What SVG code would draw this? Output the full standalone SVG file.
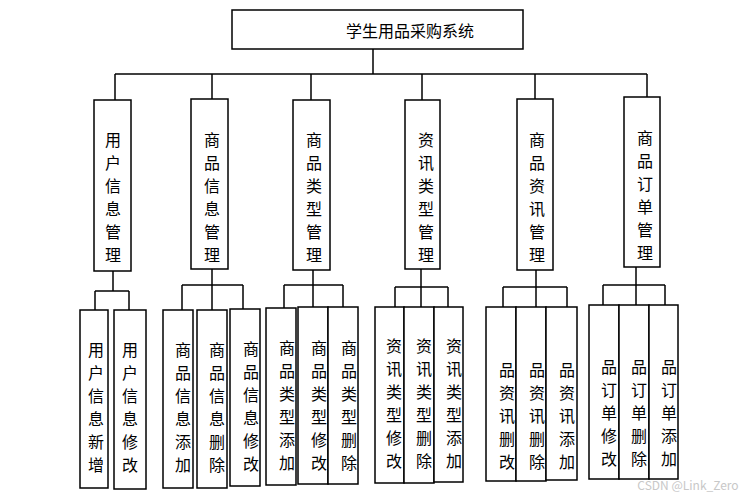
<svg xmlns="http://www.w3.org/2000/svg" width="752" height="499" viewBox="0 0 752 499">
<style>
rect{fill:#fff;stroke:#000;stroke-width:1.5}
#connectors line{stroke:#000;stroke-width:1.5}
text{font-family:"Noto Sans CJK SC","Noto Sans",sans-serif;font-size:16px;fill:#000;text-anchor:middle}
</style>
<rect width="752" height="499" style="stroke:none"/>
<g id="connectors">
<line x1="115" y1="74" x2="647" y2="74"/><line x1="373" y1="49" x2="373" y2="74"/>
<line x1="115" y1="74" x2="115" y2="100"/><line x1="212" y1="74" x2="212" y2="99"/><line x1="311" y1="74" x2="311" y2="100"/><line x1="422" y1="74" x2="422" y2="100"/><line x1="535" y1="74" x2="535" y2="99"/><line x1="647" y1="74" x2="647" y2="97"/>
<line x1="113" y1="271" x2="113" y2="291"/><line x1="95" y1="291" x2="129" y2="291"/><line x1="95" y1="291" x2="95" y2="310"/><line x1="129" y1="291" x2="129" y2="310"/>
<line x1="212" y1="269" x2="212" y2="310"/><line x1="182" y1="285" x2="243" y2="285"/><line x1="182" y1="285" x2="182" y2="310"/><line x1="243" y1="285" x2="243" y2="309"/>
<line x1="313" y1="270" x2="313" y2="307"/><line x1="284" y1="285" x2="343" y2="285"/><line x1="284" y1="285" x2="284" y2="308"/><line x1="343" y1="285" x2="343" y2="307"/>
<line x1="421" y1="269" x2="421" y2="307"/><line x1="395" y1="287" x2="448" y2="287"/><line x1="395" y1="287" x2="395" y2="307"/><line x1="448" y1="287" x2="448" y2="307"/>
<line x1="536" y1="270" x2="536" y2="307"/><line x1="503" y1="287" x2="567" y2="287"/><line x1="503" y1="287" x2="503" y2="307"/><line x1="567" y1="287" x2="567" y2="307"/>
<line x1="636" y1="267" x2="636" y2="305"/><line x1="603" y1="285" x2="665" y2="285"/><line x1="603" y1="285" x2="603" y2="305"/><line x1="665" y1="285" x2="665" y2="305"/>
</g>
<g id="root"><rect x="232" y="10" width="291" height="39"/><text x="410" y="37">学生用品采购系统</text></g>
<g id="n1"><rect x="94" y="100" width="37" height="171"/><text x="113"><tspan x="113" y="146">用</tspan><tspan x="113" y="169">户</tspan><tspan x="113" y="192">信</tspan><tspan x="113" y="215">息</tspan><tspan x="113" y="238">管</tspan><tspan x="113" y="261">理</tspan></text></g>
<g id="n2"><rect x="191" y="99" width="37" height="170"/><text x="212"><tspan x="212" y="146">商</tspan><tspan x="212" y="169">品</tspan><tspan x="212" y="192">信</tspan><tspan x="212" y="215">息</tspan><tspan x="212" y="238">管</tspan><tspan x="212" y="261">理</tspan></text></g>
<g id="n3"><rect x="293" y="100" width="37" height="170"/><text x="314"><tspan x="314" y="146">商</tspan><tspan x="314" y="169">品</tspan><tspan x="314" y="192">类</tspan><tspan x="314" y="215">型</tspan><tspan x="314" y="238">管</tspan><tspan x="314" y="261">理</tspan></text></g>
<g id="n4"><rect x="405" y="100" width="35" height="169"/><text x="426"><tspan x="426" y="146">资</tspan><tspan x="426" y="169">讯</tspan><tspan x="426" y="192">类</tspan><tspan x="426" y="215">型</tspan><tspan x="426" y="238">管</tspan><tspan x="426" y="261">理</tspan></text></g>
<g id="n5"><rect x="517" y="99" width="36" height="171"/><text x="537"><tspan x="537" y="146">商</tspan><tspan x="537" y="169">品</tspan><tspan x="537" y="192">资</tspan><tspan x="537" y="215">讯</tspan><tspan x="537" y="238">管</tspan><tspan x="537" y="261">理</tspan></text></g>
<g id="n6"><rect x="624" y="97" width="36" height="170"/><text x="645"><tspan x="645" y="144">商</tspan><tspan x="645" y="167">品</tspan><tspan x="645" y="190">订</tspan><tspan x="645" y="213">单</tspan><tspan x="645" y="236">管</tspan><tspan x="645" y="259">理</tspan></text></g>
<g id="l11"><rect x="80" y="310" width="28" height="178"/><text><tspan x="96" y="356">用</tspan><tspan x="96" y="379">户</tspan><tspan x="96" y="402">信</tspan><tspan x="96" y="425">息</tspan><tspan x="96" y="448">新</tspan><tspan x="96" y="471">增</tspan></text></g>
<g id="l12"><rect x="114" y="310" width="32" height="179"/><text><tspan x="130" y="356">用</tspan><tspan x="130" y="379">户</tspan><tspan x="130" y="402">信</tspan><tspan x="130" y="425">息</tspan><tspan x="130" y="448">修</tspan><tspan x="130" y="471">改</tspan></text></g>
<g id="l21"><rect x="163" y="310" width="30" height="178"/><text><tspan x="183" y="356">商</tspan><tspan x="183" y="379">品</tspan><tspan x="183" y="402">信</tspan><tspan x="183" y="425">息</tspan><tspan x="183" y="448">添</tspan><tspan x="183" y="471">加</tspan></text></g>
<g id="l22"><rect x="197" y="310" width="30" height="178"/><text><tspan x="217" y="356">商</tspan><tspan x="217" y="379">品</tspan><tspan x="217" y="402">信</tspan><tspan x="217" y="425">息</tspan><tspan x="217" y="448">删</tspan><tspan x="217" y="471">除</tspan></text></g>
<g id="l23"><rect x="230" y="309" width="30" height="177"/><text><tspan x="251" y="355">商</tspan><tspan x="251" y="378">品</tspan><tspan x="251" y="401">信</tspan><tspan x="251" y="424">息</tspan><tspan x="251" y="447">修</tspan><tspan x="251" y="470">改</tspan></text></g>
<g id="l31"><rect x="266" y="308" width="30" height="177"/><text><tspan x="287" y="354">商</tspan><tspan x="287" y="377">品</tspan><tspan x="287" y="400">类</tspan><tspan x="287" y="423">型</tspan><tspan x="287" y="446">添</tspan><tspan x="287" y="469">加</tspan></text></g>
<g id="l32"><rect x="298" y="307" width="30" height="177"/><text><tspan x="319" y="354">商</tspan><tspan x="319" y="377">品</tspan><tspan x="319" y="400">类</tspan><tspan x="319" y="423">型</tspan><tspan x="319" y="446">修</tspan><tspan x="319" y="469">改</tspan></text></g>
<g id="l33"><rect x="328" y="307" width="30" height="177"/><text><tspan x="349" y="354">商</tspan><tspan x="349" y="377">品</tspan><tspan x="349" y="400">类</tspan><tspan x="349" y="423">型</tspan><tspan x="349" y="446">删</tspan><tspan x="349" y="469">除</tspan></text></g>
<g id="l41"><rect x="375" y="307" width="29" height="176"/><text><tspan x="394" y="352">资</tspan><tspan x="394" y="375">讯</tspan><tspan x="394" y="398">类</tspan><tspan x="394" y="421">型</tspan><tspan x="394" y="444">修</tspan><tspan x="394" y="467">改</tspan></text></g>
<g id="l42"><rect x="404" y="307" width="30" height="176"/><text><tspan x="424" y="352">资</tspan><tspan x="424" y="375">讯</tspan><tspan x="424" y="398">类</tspan><tspan x="424" y="421">型</tspan><tspan x="424" y="444">删</tspan><tspan x="424" y="467">除</tspan></text></g>
<g id="l43"><rect x="434" y="307" width="29" height="175"/><text><tspan x="454" y="352">资</tspan><tspan x="454" y="375">讯</tspan><tspan x="454" y="398">类</tspan><tspan x="454" y="421">型</tspan><tspan x="454" y="444">添</tspan><tspan x="454" y="467">加</tspan></text></g>
<g id="l51"><rect x="486" y="307" width="30" height="174"/><text><tspan x="507" y="376">品</tspan><tspan x="507" y="399">资</tspan><tspan x="507" y="422">讯</tspan><tspan x="507" y="445">删</tspan><tspan x="507" y="468">改</tspan></text></g>
<g id="l52"><rect x="516" y="307" width="30" height="174"/><text><tspan x="537" y="376">品</tspan><tspan x="537" y="399">资</tspan><tspan x="537" y="422">讯</tspan><tspan x="537" y="445">删</tspan><tspan x="537" y="468">除</tspan></text></g>
<g id="l53"><rect x="546" y="307" width="31" height="173"/><text><tspan x="567" y="376">品</tspan><tspan x="567" y="399">资</tspan><tspan x="567" y="422">讯</tspan><tspan x="567" y="445">添</tspan><tspan x="567" y="468">加</tspan></text></g>
<g id="l61"><rect x="589" y="305" width="30" height="174"/><text><tspan x="609" y="373">品</tspan><tspan x="609" y="396">订</tspan><tspan x="609" y="419">单</tspan><tspan x="609" y="442">修</tspan><tspan x="609" y="465">改</tspan></text></g>
<g id="l62"><rect x="619" y="305" width="30" height="174"/><text><tspan x="639" y="373">品</tspan><tspan x="639" y="396">订</tspan><tspan x="639" y="419">单</tspan><tspan x="639" y="442">删</tspan><tspan x="639" y="465">除</tspan></text></g>
<g id="l63"><rect x="649" y="305" width="29" height="174"/><text><tspan x="669" y="373">品</tspan><tspan x="669" y="396">订</tspan><tspan x="669" y="419">单</tspan><tspan x="669" y="442">添</tspan><tspan x="669" y="465">加</tspan></text></g>
<text x="688" y="490" style="font-size:12px;fill:#c8c8c8">CSDN @Link_Zero</text>
</svg>
